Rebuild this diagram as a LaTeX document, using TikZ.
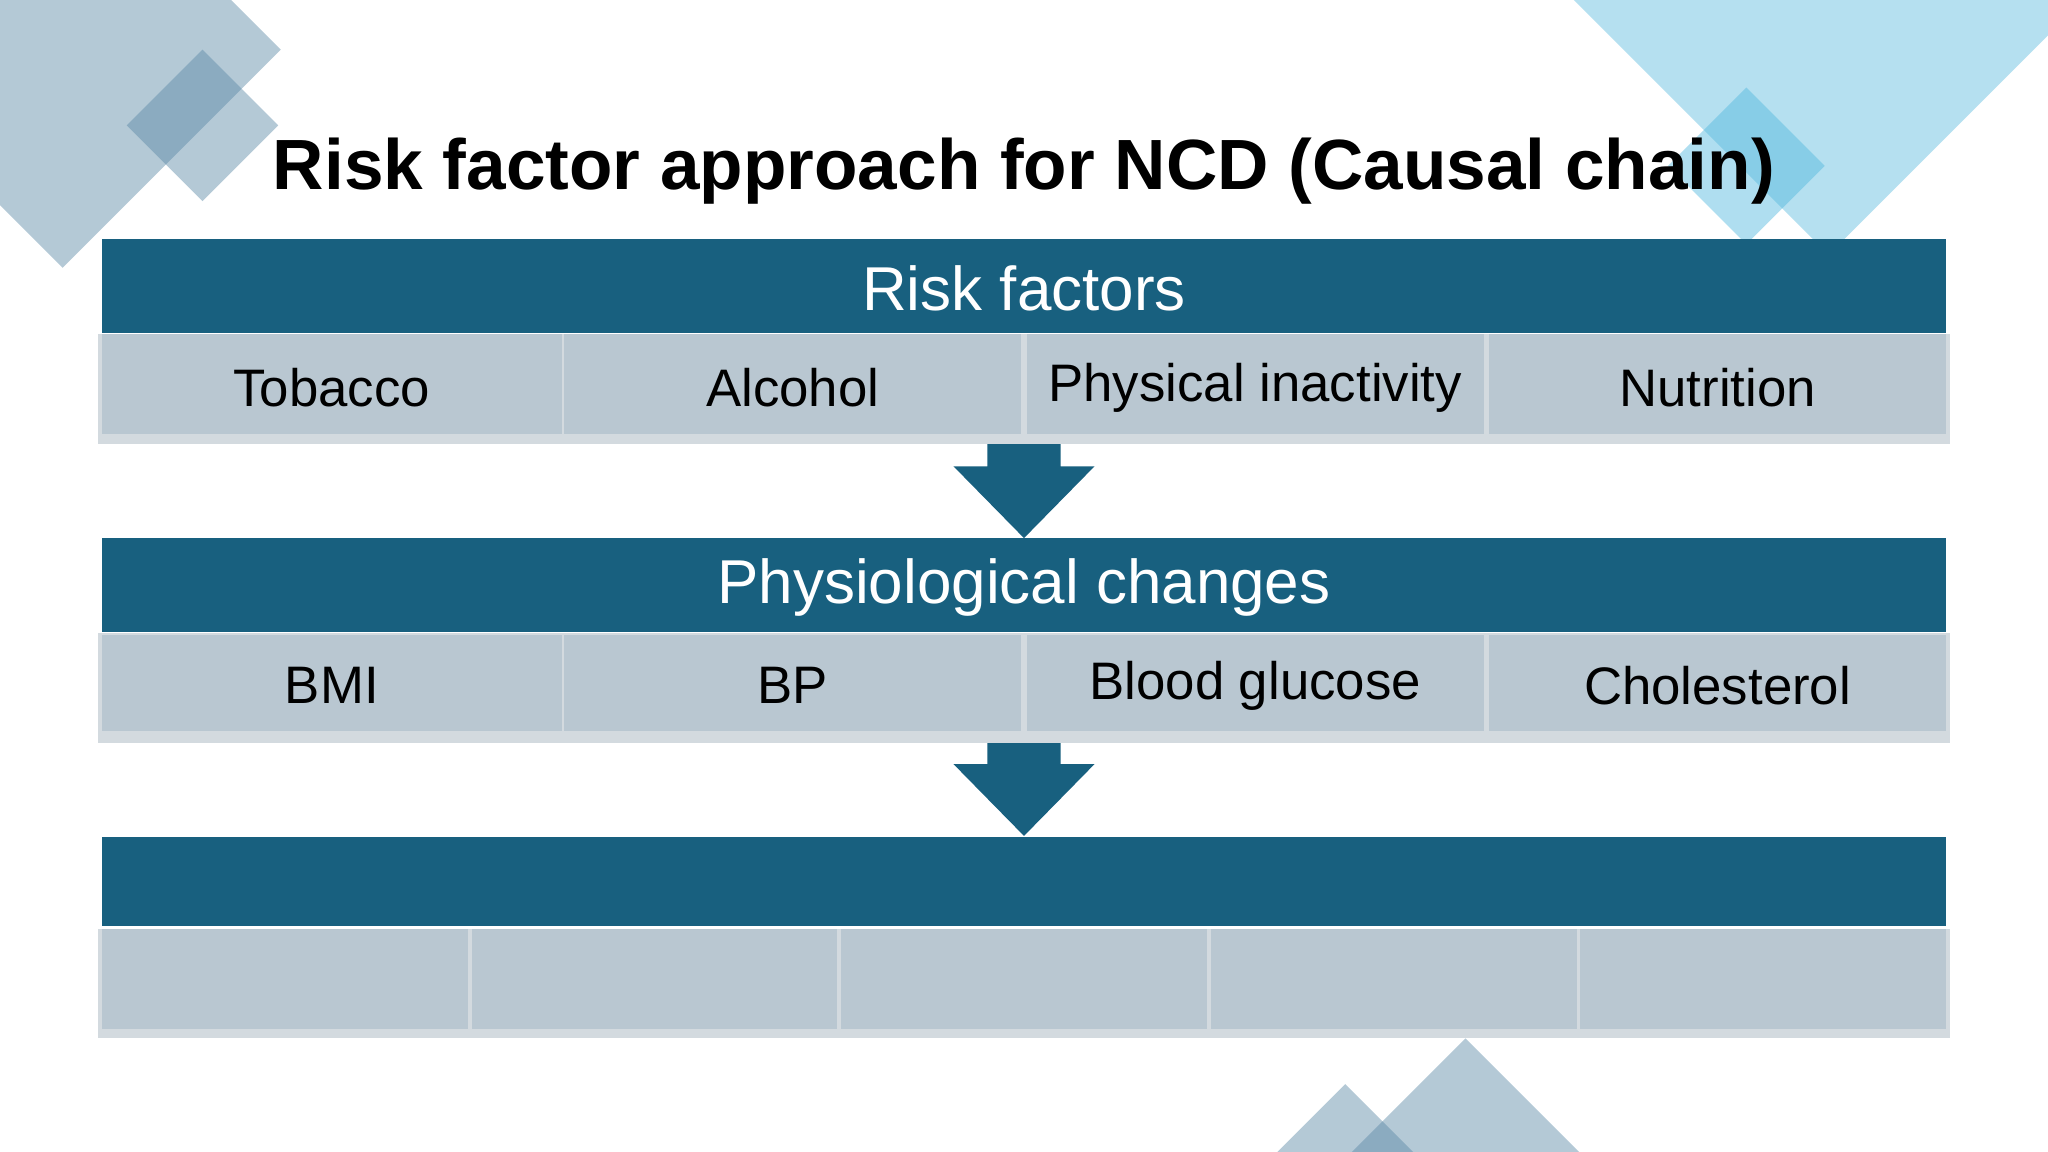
\documentclass[tikz,border=0pt]{standalone}
\usepackage{fontspec}
\setmainfont{Liberation Sans}
\definecolor{dark}{HTML}{18607F}
\definecolor{cell}{HTML}{B9C7D1}
\definecolor{shad}{HTML}{D3DADF}
\definecolor{grayblue}{HTML}{5A88A6}
\definecolor{skyb}{HTML}{B5E0F0}
\definecolor{skyd}{HTML}{4FB8DE}
\tikzset{
  bar/.style={fill=dark, draw=none},
  cellbox/.style={fill=cell, draw=none},
  shadowbox/.style={fill=shad, draw=none},
  celltext/.style={font=\fontsize{23}{26}\selectfont, text=black},
  bartext/.style={font=\fontsize{27}{30}\selectfont, text=white},
}
\begin{document}
\begin{tikzpicture}[x=0.02cm,y=-0.02cm]
\useasboundingbox (0,0) rectangle (1568,882);
\fill[white] (0,0) rectangle (1568,882);
\clip (0,0) rectangle (1568,882);
% decorations
\fill[grayblue, fill opacity=0.45] (48,-129) -- (215,38) -- (48,205) -- (-119,38) -- cycle;
\fill[grayblue, fill opacity=0.45] (155,38) -- (213,96) -- (155,154) -- (97,96) -- cycle;
\fill[skyb] (1400,-305) -- (1650,-55) -- (1400,195) -- (1150,-55) -- cycle;
\fill[skyd, fill opacity=0.45] (1337,67) -- (1397,127) -- (1337,187) -- (1277,127) -- cycle;
\fill[grayblue, fill opacity=0.45] (1122,795) -- (1247,920) -- (1122,1045) -- (997,920) -- cycle;
\fill[grayblue, fill opacity=0.45] (1030,830) -- (1110,910) -- (1030,990) -- (950,910) -- cycle;
% title
\node (title) at (784,131) {\fontsize{31}{34}\selectfont\bfseries Risk factor approach for NCD (Causal chain)};
% block 1
\fill[shadowbox] (75,256) rectangle (1493,340);
\fill[bar] (78,183) rectangle (1490,255);
\node[bartext] (rf) at (784,221) {Risk factors};
\fill[cellbox] (78,256) rectangle (430,332);
\fill[cellbox] (432,256) rectangle (782,332);
\fill[cellbox] (786,256) rectangle (1136,332);
\fill[cellbox] (1140,256) rectangle (1490,332);
\node[celltext] (t1) at (254,297) {Tobacco};
\node[celltext] (t2) at (607,297) {Alcohol};
\node[celltext] (t3) at (961,297) {Physical inactivity};
\node[celltext] (t4) at (1315,297) {Nutrition};
% arrow 1
\fill[dark] (756,340) -- (812,340) -- (812,357) -- (838,357) -- (784,412) -- (730,357) -- (756,357) -- cycle;
% block 2
\fill[shadowbox] (75,485) rectangle (1493,569);
\fill[bar] (78,412) rectangle (1490,484);
\node[bartext] (pc) at (784,450) {Physiological changes};
\fill[cellbox] (78,486) rectangle (430,560);
\fill[cellbox] (432,486) rectangle (782,560);
\fill[cellbox] (786,486) rectangle (1136,560);
\fill[cellbox] (1140,486) rectangle (1490,560);
\node[celltext] (p1) at (254,525) {BMI};
\node[celltext] (p2) at (607,525) {BP};
\node[celltext] (p3) at (961,525) {Blood glucose};
\node[celltext] (p4) at (1315,525) {Cholesterol};
% arrow 2
\fill[dark] (756,569) -- (812,569) -- (812,585) -- (838,585) -- (784,640) -- (730,585) -- (756,585) -- cycle;
% block 3
\fill[shadowbox] (75,711) rectangle (1493,795);
\fill[bar] (78,641) rectangle (1490,709);
\fill[cellbox] (78,711) rectangle (358,788);
\fill[cellbox] (361,711) rectangle (641,788);
\fill[cellbox] (644,711) rectangle (924,788);
\fill[cellbox] (927,711) rectangle (1207,788);
\fill[cellbox] (1210,711) rectangle (1490,788);
\end{tikzpicture}
\end{document}
